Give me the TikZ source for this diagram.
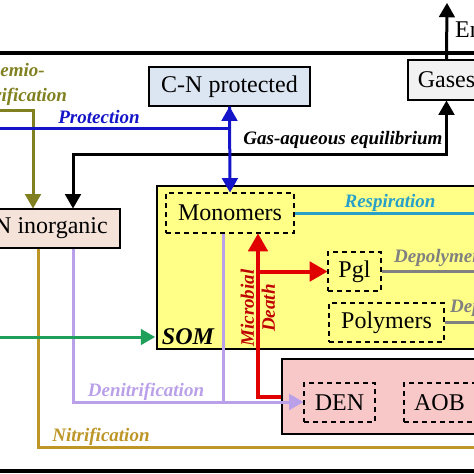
\documentclass[tikz,border=0pt]{standalone}
\usepackage{fontspec}
\setmainfont{Liberation Serif}
\usetikzlibrary{arrows, calc}
\definecolor{protblue}{RGB}{20,20,200}
\definecolor{chemolive}{RGB}{128,128,32}
\definecolor{nitgold}{RGB}{190,150,40}
\definecolor{denlav}{RGB}{185,160,232}
\definecolor{inflowgreen}{RGB}{30,160,90}
\definecolor{respcyan}{RGB}{40,160,200}
\definecolor{depgray}{RGB}{128,128,128}
\definecolor{deathred}{RGB}{225,0,0}
\definecolor{protfill}{RGB}{220,230,242}
\definecolor{gasfill}{RGB}{242,242,242}
\definecolor{inofill}{RGB}{245,226,216}
\definecolor{somfill}{RGB}{255,255,136}
\definecolor{micfill}{RGB}{248,200,200}

\begin{document}
\begin{tikzpicture}[x=1pt, y=-1pt,
	box/.style={draw, line width=1.2pt, minimum height=39pt, inner sep=0pt, font=\fontsize{24}{24}\selectfont},
	dbox/.style={box, dashed, dash pattern=on 5pt off 4pt},
	pool/.style={draw, line width=1.6pt, inner sep=0pt},
	flow/.style={line width=3pt},
	lab/.style={font=\fontsize{19}{21}\selectfont\bfseries\itshape, inner sep=0pt}]
	\useasboundingbox (0,0) rectangle (474,474);
	\clip (0,0) rectangle (474,474);
	\draw [line width=3.5pt] (-10,53) rectangle (490,471);
	\node [pool, fill=somfill, minimum width=340pt, minimum height=163pt] (som) at (327,267.5) {};
	\node [pool, fill=micfill, minimum width=220pt, minimum height=75pt] (mic) at (392,396.5) {};
	\node [box, fill=protfill, minimum width=161pt] (cnp) at (229.5,86.5) {C-N protected};
	\node [box, fill=gasfill, minimum width=77pt, minimum height=40pt] (gas) at (446.5,80) {Gases};
	\node [box, fill=inofill, minimum width=162pt] (cni) at (39,228.5) {C-N inorganic};
	\node [dbox, minimum width=128pt, minimum height=40pt] (mono) at (230,213) {Monomers};
	\node [dbox, minimum width=53pt] (pgl) at (354.5,271.5) {Pgl};
	\node [dbox, minimum width=115pt] (poly) at (386.5,322.5) {Polymers};
	\node [dbox, minimum width=71pt] (den) at (339.5,402.5) {DEN};
	\node [dbox, minimum width=71pt] (aob) at (439.5,402.5) {AOB};
	\coordinate (envtop) at (447,3);
	\coordinate (chemin) at (-5,110);
	\coordinate (chembend) at (33,110);
	\coordinate (protin) at (-5,128);
	\coordinate (gasbend) at (73,154);
	\coordinate (nitbend) at (38,447);
	\coordinate (nitout) at (480,447);
	\coordinate (denbend) at (73,402);
	\coordinate (monodrop) at (223,402);
	\coordinate (greenin) at (-5,337);
	\coordinate (greenend) at (155,337);
	\coordinate (respout) at (480,213);
	\coordinate (deathbend) at (258,396.5);
	\coordinate (pglout) at (480,271.5);
	\coordinate (polyout) at (480,322.5);
	\draw [flow, -triangle 60] (gas.north) -- (envtop);
	\draw [flow, chemolive, -triangle 60] (chemin) -- (chembend) -- (cni.north -| chembend);
	\draw [flow, triangle 60-triangle 60] (cni.north -| gasbend) -- (gasbend) -| (gas.south);
	\draw [flow, protblue, -triangle 60] (protin) -| (cnp.south);
	\draw [flow, protblue, -triangle 60] (cnp.south) -- (mono.north);
	\draw [flow, nitgold] (cni.south -| nitbend) -- (nitbend) -- (nitout);
	\draw [flow, denlav] (mono.south -| monodrop) -- (monodrop);
	\draw [flow, denlav, -triangle 60] (cni.south -| denbend) -- (denbend) -- (den.west |- denbend);
	\draw [flow, inflowgreen, -triangle 60] (greenin) -- (greenend);
	\draw [flow, respcyan] (mono.east) -- (respout);
	\draw [flow, depgray] (pgl.east) -- (pglout);
	\draw [flow, depgray] (poly.east) -- (polyout);
	\draw [line width=4pt, deathred, -triangle 60] (mic.west) -- (deathbend) -- (deathbend |- mono.south);
	\draw [line width=4pt, deathred, -triangle 60] (pgl.west -| deathbend) -- (pgl.west);
	\path (455,30) node [anchor=west, inner sep=0pt, font=\fontsize{24}{24}\selectfont] {Environment};
	\path (11,84) node [lab, font=\fontsize{19}{25}\selectfont\bfseries\itshape, align=center, text=chemolive] {Chemio-\\denitrification};
	\path (99,117) node [lab, text=protblue] {Protection};
	\path (343,140) node [lab] {Gas-aqueous equilibrium};
	\path (390,203) node [lab, text=respcyan] {Respiration};
	\path (394,258) node [lab, anchor=west, text=depgray] {Depolymerization};
	\path (450,308) node [lab, anchor=west, text=depgray] {Depolymerization};
	\path (258,308) node [lab, rotate=90, align=center, text=deathred!85!black] {Microbial\\Death};
	\path (188,337) node [lab, font=\fontsize{24}{24}\selectfont\bfseries\itshape] {SOM};
	\path (146,392) node [lab, text=denlav] {Denitrification};
	\path (101,437) node [lab, text=nitgold] {Nitrification};
\end{tikzpicture}
\end{document}
